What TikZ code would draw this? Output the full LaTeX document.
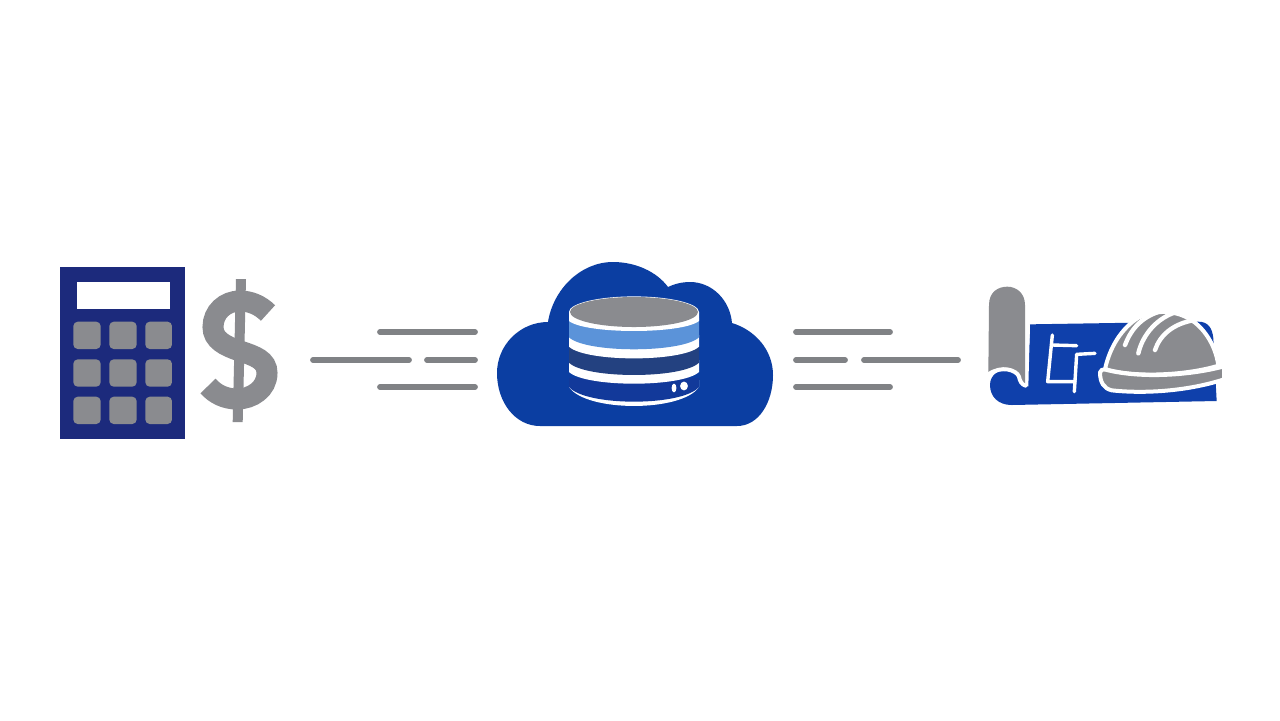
\documentclass[tikz,border=0pt]{standalone}
\definecolor{navy}{HTML}{1C2A7C}
\definecolor{midgray}{HTML}{8A8B8F}
\definecolor{linegray}{HTML}{808285}
\definecolor{cloudblue}{HTML}{0B3EA2}
\definecolor{lightband}{HTML}{5B93D9}
\definecolor{darkband}{HTML}{234180}
\definecolor{lowband}{HTML}{12399A}
\definecolor{sheetblue}{HTML}{0F40AB}
\tikzset{
  dashline/.style={draw=linegray,line width=2.9pt,line cap=round},
  keybtn/.style={fill=midgray,rounded corners=2.2pt},
  planline/.style={draw=white,line width=1.7pt,line cap=round,line join=round},
  ribline/.style={draw=white,line width=2.2pt,line cap=round}
}
% band of the cylinder: colour, top edge, bottom edge, depth of the curve
\newcommand{\dbband}[4]{\fill[#1] (569,#2) -- (699,#2) -- (699,#3) .. controls (682,{#3+1.33*#4}) and (586,{#3+1.33*#4}) .. (569,#3) -- cycle;}
\begin{document}
\begin{tikzpicture}[x=0.5pt,y=-0.5pt]
\useasboundingbox (0,0) rectangle (1280,720);
\fill[white] (0,0) rectangle (1280,720);

% calculator
\begin{scope}[shift={(40,250)},scale=0.33333]
  \fill[navy] (60,50) rectangle (435,568);
  \fill[white] (110,97) rectangle (390,177);
  \foreach \yy in {215,328,440}{
    \fill[keybtn] (100,\yy) rectangle (182,\yy+82);
    \fill[keybtn] (208,\yy) rectangle (290,\yy+82);
    \fill[keybtn] (316,\yy) rectangle (396,\yy+82);
  }
\end{scope}

% dollar sign
\fill[midgray] (236,279) -- (246,279) -- (242.7,422) -- (232.7,422) -- cycle;
\draw[midgray,line width=10.5pt] (268,313) .. controls (260,305) and (250,301) .. (240,301)
  .. controls (225,301) and (213,312) .. (213,327)
  .. controls (213,340) and (225,346) .. (240,351)
  .. controls (255,356) and (267,360) .. (267,373)
  .. controls (267,389) and (252,399) .. (237,399)
  .. controls (225,399) and (215,394) .. (208,386);

% left dashes
\draw[dashline] (380,332) -- (475,332);
\draw[dashline] (313,360) -- (409,360);
\draw[dashline] (427,360) -- (475,360);
\draw[dashline] (380,387) -- (475,387);

% right dashes
\draw[dashline] (796,332) -- (890,332);
\draw[dashline] (796,360) -- (845,360);
\draw[dashline] (864,360) -- (958,360);
\draw[dashline] (796,387) -- (890,387);

% cloud
\fill[cloudblue] (540,426) -- (737,426) .. controls (759,426) and (773,402) .. (773,375)
  .. controls (773,350) and (755,330) .. (732,323)
  .. controls (730,300) and (712,282) .. (690,282)
  .. controls (682,282) and (674,284) .. (668,287)
  .. controls (657,272) and (636,262) .. (613,262)
  .. controls (580,262) and (553,290) .. (548,322)
  .. controls (520,322) and (497,345) .. (497,373)
  .. controls (497,402) and (515,426) .. (540,426) -- cycle;

% database, bottom to top
\dbband{white}{380}{387}{19}
\dbband{lowband}{378}{387}{14.7}
\dbband{white}{360}{372}{11.7}
\dbband{darkband}{345}{362.7}{12.3}
\dbband{white}{335}{346.7}{11.7}
\dbband{lightband}{318}{337.3}{12}
\dbband{white}{312}{321}{10}
\fill[white] (634,312) ellipse[x radius=65,y radius=15.6];
\fill[midgray] (634,312) ellipse[x radius=64,y radius=15];
\fill[white] (674,388) ellipse[x radius=2.4,y radius=4.4];
\fill[white] (684,386) ellipse[x radius=3.9,y radius=4.4];

% blueprint and helmet
\begin{scope}[shift={(975,275)},scale=0.33333]
  \fill[sheetblue] (165,148) -- (670,140) .. controls (700,140) and (712,160) .. (715,190)
    -- (725,378) -- (110,390) .. controls (70,390) and (45,365) .. (45,330)
    .. controls (45,300) and (70,285) .. (95,285) -- (160,285) -- (165,148) -- cycle;
  \fill[white] (150,150) -- (165,148) -- (160,334) -- (150,334) -- cycle;
  % roll
  \fill[midgray] (40,293) -- (42,90) .. controls (42,50) and (70,35) .. (97,35)
    .. controls (125,35) and (150,55) .. (150,90)
    -- (150,328) .. controls (138,325) and (134,315) .. (132,300)
    .. controls (125,280) and (80,265) .. (40,293) -- cycle;
  \draw[white,line width=2pt,line cap=round] (40,298)
    .. controls (80,270) and (125,285) .. (132,305)
    .. controls (134,318) and (140,328) .. (151,332);
  % plan
  \draw[planline] (232,180) -- (218,320) -- (300,320);
  \draw[planline] (232,210) -- (305,212);
  \draw[planline] (360,235) -- (305,238) -- (298,350);
  % helmet
  \draw[white,line width=2pt,fill=midgray,line join=round]
    (390,282) .. controls (405,215) and (440,160) .. (490,128)
    .. controls (540,103) and (610,103) .. (660,143)
    .. controls (700,175) and (724,225) .. (730,272)
    .. controls (640,300) and (480,310) .. (390,282) -- cycle;
  \draw[white,line width=2pt,fill=midgray,line join=round]
    (375,292) .. controls (375,284) and (385,282) .. (392,284)
    .. controls (490,310) and (640,303) .. (747,274)
    -- (747,313) .. controls (650,345) and (520,358) .. (410,346)
    .. controls (386,340) and (375,322) .. (375,292) -- cycle;
  \draw[ribline] (450,210) .. controls (465,170) and (495,125) .. (560,108);
  \draw[ribline] (490,235) .. controls (500,190) and (535,135) .. (600,112);
  \draw[ribline] (540,225) .. controls (555,180) and (595,145) .. (660,135);
\end{scope}
\end{tikzpicture}
\end{document}
